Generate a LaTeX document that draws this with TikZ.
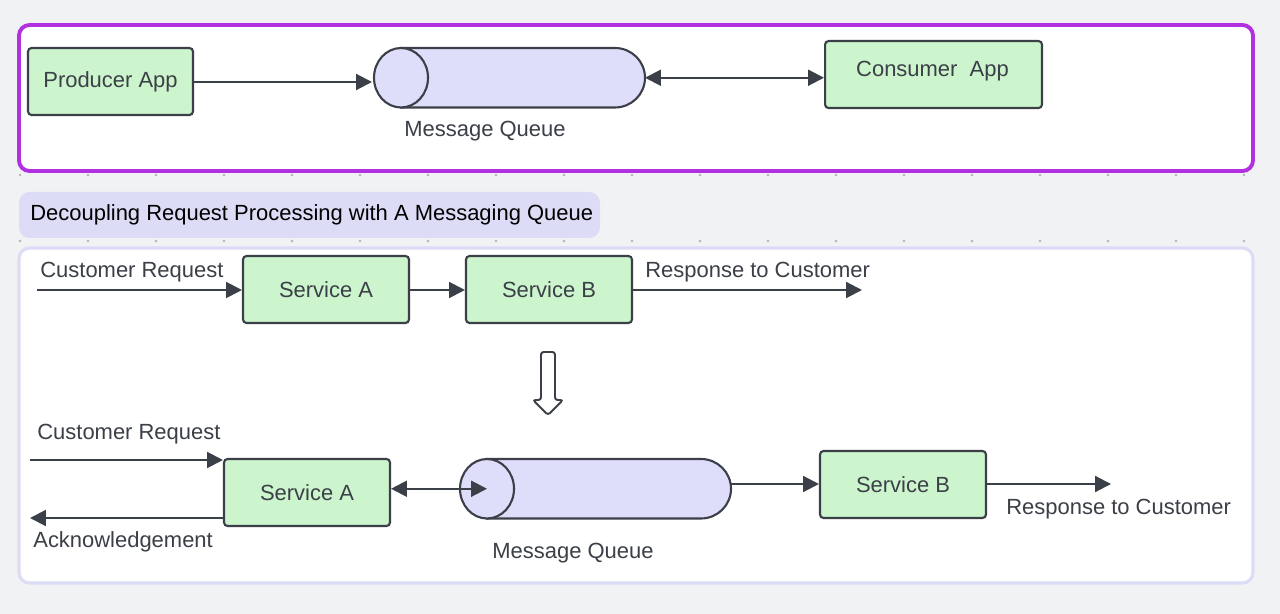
\documentclass[tikz,border=0pt]{standalone}
\usepackage{fontspec}
\setmainfont{Liberation Sans}
\usetikzlibrary{arrows.meta}
\definecolor{bgc}{HTML}{F1F2F4}
\definecolor{ink}{HTML}{3B3F47}
\definecolor{appc}{HTML}{CDF5CD}
\definecolor{queuec}{HTML}{DEDDFA}
\definecolor{framec}{HTML}{B130E0}
\definecolor{paler}{HTML}{DCDCF6}
\tikzset{
  app/.style={draw=ink, fill=appc, line width=1.2pt, rounded corners=2pt, text=ink, font=\fontsize{12.5}{14}\selectfont},
  lbl/.style={text=ink, font=\fontsize{12.5}{14}\selectfont, inner sep=0pt},
  flow/.style={draw=ink, line width=1.2pt, -{Triangle[length=9pt,width=9pt]}},
  both/.style={flow, {Triangle[length=9pt,width=9pt]}-{Triangle[length=9pt,width=9pt]}},
  queue/.style={draw=ink, fill=queuec, line width=1.2pt}
}
\newcommand{\mqueue}[3]{% left x, top y, name
  \path[queue] (#1+27,#2) -- (#1+241,#2) arc[start angle=90,end angle=-90,x radius=0.6cm,y radius=0.595cm] -- (#1+27,#2+59.5) -- cycle;
  \draw[queue] (#1+27,#2+29.75) ellipse[x radius=0.54cm, y radius=0.595cm];
  \coordinate (#3) at (#1+27,#2+29.75);
  \coordinate (#3w) at (#1,#2+29.75);
  \coordinate (#3e) at (#1+271,#2+29.75);
}
\begin{document}
\begin{tikzpicture}[x=0.02cm,y=-0.02cm]

  \fill[bgc] (0,0) rectangle (1280,614);
  \useasboundingbox (0,0) rectangle (1280,614);

  % frames
  \draw[framec, fill=white, line width=2.2pt, rounded corners=6pt] (19,25) rectangle (1253,171);
  \draw[paler, fill=white, line width=1.8pt, rounded corners=6pt] (19,248) rectangle (1253,583);
  \foreach \k in {0,...,18} {
    \fill[gray!60] (20+68*\k,175) circle[radius=0.8pt];
    \fill[gray!60] (20+68*\k,241) circle[radius=0.8pt];
  }
  \fill[paler, rounded corners=6pt] (19,192) rectangle (600,238);
  \node[lbl, text=black, anchor=west] (title) at (30,215) {Decoupling Request Processing with A Messaging Queue};

  % top: producer / queue / consumer
  \node[app, minimum width=3.3cm, minimum height=1.34cm] (prod) at (110.5,81.5) {Producer App};
  \mqueue{374}{48}{mq}
  \node[lbl] (mqlabel) at (485,131) {Message Queue};
  \node[app, minimum width=4.34cm, minimum height=1.34cm, anchor=north west] (cons) at (824,40) {};
  \node[lbl] (constext) at (932.5,71) {Consumer\ \ App};
  \coordinate (pin) at (372,82);
  \draw[flow] (prod.east |- pin) -- (pin);
  \draw[both] (mqe) -- (cons.west |- mqe);

  % bottom, before
  \node[app, minimum width=3.32cm, minimum height=1.34cm] (sa1) at (326,289.5) {Service A};
  \node[app, minimum width=3.32cm, minimum height=1.34cm] (sb1) at (549,289.5) {Service B};
  \coordinate (in1) at (37,290);
  \coordinate (out1) at (862,290);
  \draw[flow] (in1) -- (sa1.west |- in1);
  \draw[flow] (sa1.east |- in1) -- (sb1.west |- in1);
  \draw[flow] (sb1.east |- in1) -- (out1);
  \node[lbl, anchor=west] (req1) at (40,272) {Customer Request};
  \node[lbl, anchor=west] (resp1) at (645,272) {Response to Customer};

  % hollow down arrow
  \draw[ink, line width=1.1pt, fill=white, rounded corners=1.5pt]
    (541,352) -- (555,352) -- (555,400) -- (563,400) -- (548,415) -- (533,400) -- (541,400) -- cycle;

  % bottom, after
  \node[app, minimum width=3.32cm, minimum height=1.34cm] (sa2) at (307,492.5) {Service A};
  \mqueue{460}{459}{mq2}
  \node[lbl] (mq2label) at (573,553) {Message Queue};
  \node[app, minimum width=3.32cm, minimum height=1.34cm] (sb2) at (903,484.5) {Service B};
  \coordinate (in2) at (30,460);
  \coordinate (ack) at (30,518);
  \coordinate (out2) at (1111,484);
  \draw[flow] (in2) -- (sa2.west |- in2);
  \draw[flow] (sa2.west |- ack) -- (ack);
  \draw[both] (sa2.east |- mq2) -- (mq2);
  \draw[flow] (mq2e |- out2) -- (sb2.west |- out2);
  \draw[flow] (sb2.east |- out2) -- (out2);
  \node[lbl, anchor=west] (req2) at (37,434) {Customer Request};
  \node[lbl, anchor=west] (ackl) at (33,542) {Acknowledgement};
  \node[lbl, anchor=west] (resp2) at (1006,509) {Response to Customer};

\end{tikzpicture}
\end{document}
